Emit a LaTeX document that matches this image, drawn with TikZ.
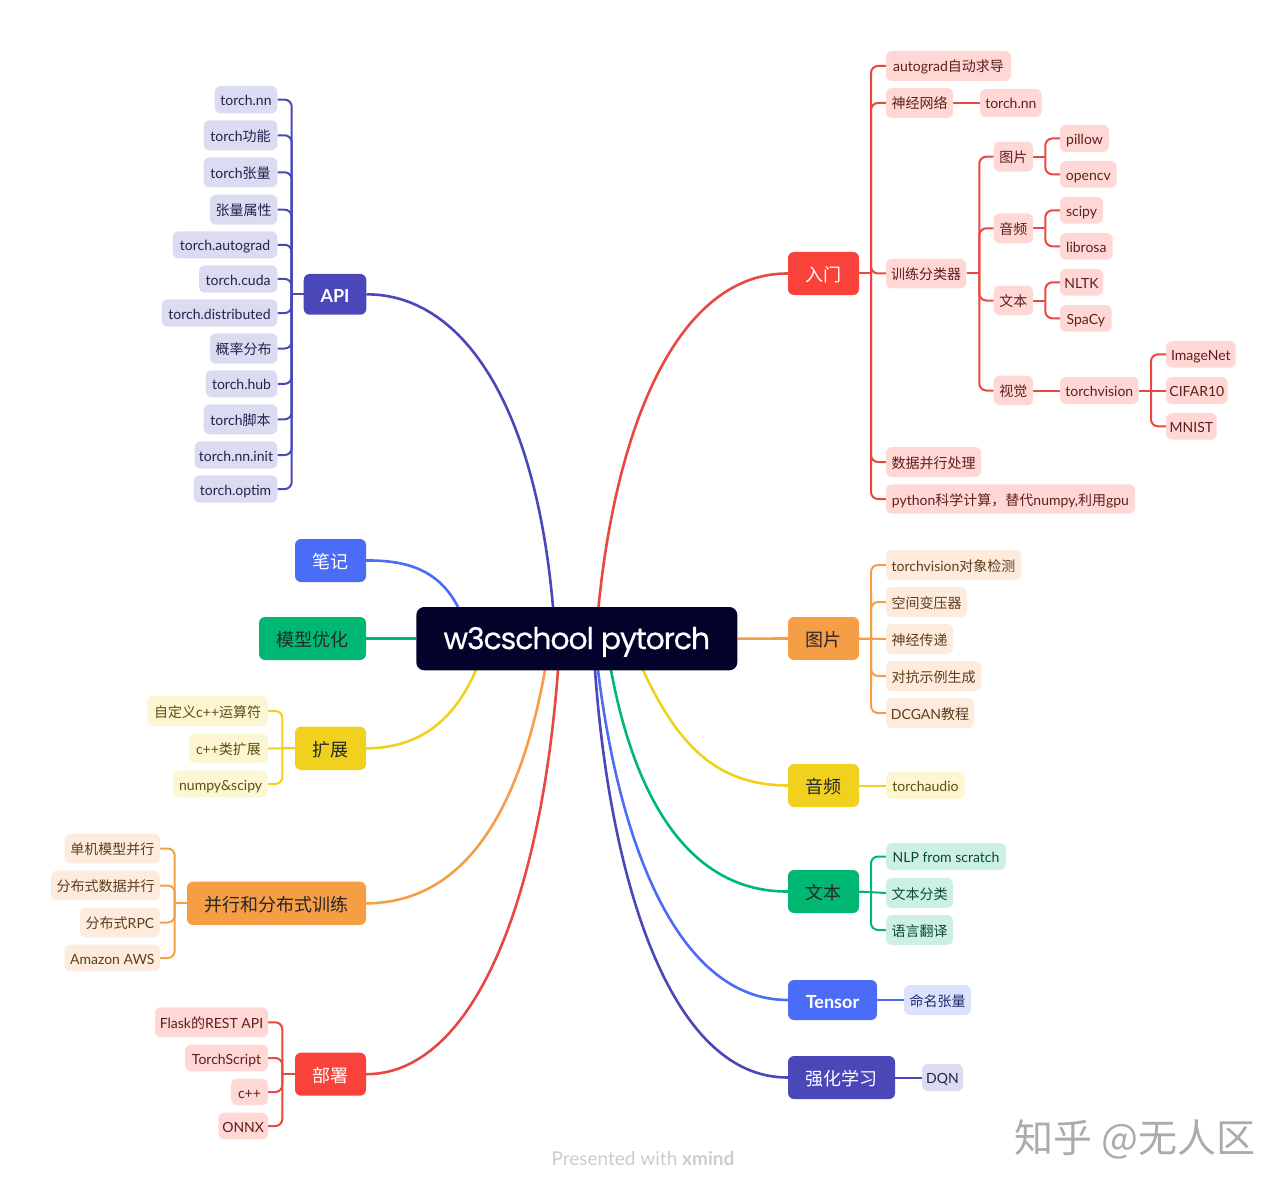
\documentclass[tikz,border=0pt]{standalone}
\usepackage{fontspec}
\setmainfont{Lato}
\newfontfamily\cjk{Noto Sans CJK SC}
\newfontfamily\popfont[FakeBold=0.4,LetterSpace=-3.7]{Poppins}
\newcommand\C[1]{{\cjk #1}}
\usetikzlibrary{backgrounds}
\definecolor{cred}{HTML}{F9423A}\definecolor{lred}{HTML}{E8483F}\definecolor{kred}{HTML}{FFD8D6}\definecolor{tred}{HTML}{5E1F1C}
\definecolor{cind}{HTML}{4A47B8}\definecolor{kind}{HTML}{DBDBF1}\definecolor{tind}{HTML}{24234F}
\definecolor{cblu}{HTML}{4A6CF7}\definecolor{kblu}{HTML}{DBE2FD}\definecolor{tblu}{HTML}{1E2C66}
\definecolor{cgrn}{HTML}{00B871}\definecolor{kgrn}{HTML}{CCF1E3}\definecolor{tgrn}{HTML}{0B4A32}
\definecolor{cora}{HTML}{F59E46}\definecolor{kora}{HTML}{FDEBDD}\definecolor{tora}{HTML}{5E3E1C}
\definecolor{cyel}{HTML}{F0D21E}\definecolor{kyel}{HTML}{FCF6D2}\definecolor{tyel}{HTML}{5A5010}
\definecolor{croot}{HTML}{02022B}
\tikzset{
  box/.style={inner sep=0pt,rounded corners=6pt,align=center},
  kid/.style={box,text height=14pt,text depth=2pt,font=\fontsize{14}{16}\selectfont},
  redk/.style={kid,fill=kred,text=tred}, indk/.style={kid,fill=kind,text=tind},
  bluk/.style={kid,fill=kblu,text=tblu}, grnk/.style={kid,fill=kgrn,text=tgrn},
  orak/.style={kid,fill=kora,text=tora}, yelk/.style={kid,fill=kyel,text=tyel},
  topic/.style={box,text height=18pt,text depth=2pt,font=\fontsize{18}{22}\selectfont},
  lighttopic/.style={topic,text=white}, darktopic/.style={topic,text=black!85},
  rootbox/.style={box,rounded corners=8pt,fill=croot,text=white,text height=25pt,text depth=4pt,font=\popfont\fontsize{30}{34}\selectfont},
  mainline/.style={line width=2.6pt},
  treeline/.style={line width=2pt,rounded corners=7pt},
  stubline/.style={line width=2pt},
}
\newcommand\N[7]{\node[#6,minimum width={(#3-#2)*1pt},minimum height={(#5-#4)*1pt}] (#1) at ({(#2+#3)/2},{(#4+#5)/2}) {#7};}
% tree links: a straight stub from the parent to the trunk, then a rounded branch to each child
\newcommand\Rk[4]{\draw[stubline,#1] (#2.east) -- (#3|-#2.east);\draw[treeline,#1] (#3|-#2.east) -- (#3|-#4.west) -- (#4.west);}
\newcommand\Lk[4]{\draw[stubline,#1] (#2.west) -- (#3|-#2.west);\draw[treeline,#1] (#3|-#2.west) -- (#3|-#4.east) -- (#4.east);}
\begin{document}
\begin{tikzpicture}[x=1pt,y=-1pt]
\useasboundingbox (0,0) rectangle (1287,1190);
\N{root}{416.3}{737.3}{607}{670.3}{rootbox}{w3cschool pytorch}
% topics
\N{rumen}{788}{859}{252}{295}{lighttopic,fill=cred}{\C{入门}}
\N{api}{303.7}{366.3}{274}{314.7}{lighttopic,fill=cind}{\textbf{API}}
\N{biji}{295}{366}{539}{582}{lighttopic,fill=cblu}{\C{笔记}}
\N{moxing}{259}{366}{617}{660}{darktopic,fill=cgrn}{\C{模型优化}}
\N{kuozhan}{295}{366}{726.7}{770}{darktopic,fill=cyel}{\C{扩展}}
\N{bingxing}{187}{366}{881.7}{925}{darktopic,fill=cora}{\C{并行和分布式训练}}
\N{bushu}{295}{366}{1052.7}{1095.7}{lighttopic,fill=cred}{\C{部署}}
\N{tupian}{788}{859}{617}{660}{darktopic,fill=cora}{\C{图片}}
\N{yinpin}{788}{859}{764}{807}{darktopic,fill=cyel}{\C{音频}}
\N{wenben}{788}{859}{870}{913}{darktopic,fill=cgrn}{\C{文本}}
\N{tensor}{788}{877}{980}{1020}{lighttopic,fill=cblu}{\textbf{Tensor}}
\N{qianghua}{788}{895}{1056}{1099}{lighttopic,fill=cind}{\C{强化学习}}
% intro kids
\N{r1}{886}{1011}{51}{81}{redk}{autograd\C{自动求导}}
\N{r2}{886}{953}{88}{118}{redk}{\C{神经网络}}
\N{r2a}{980}{1041.7}{89}{117}{redk}{torch.nn}
\N{r3}{886}{966.3}{258.7}{288.3}{redk}{\C{训练分类器}}
\N{r3a}{993.7}{1033}{141.7}{171.7}{redk}{\C{图片}}
\N{r3a1}{1060}{1109}{125}{152}{redk}{pillow}
\N{r3a2}{1060}{1116.7}{161}{187.7}{redk}{opencv}
\N{r3b}{993.7}{1033}{213.3}{243.3}{redk}{\C{音频}}
\N{r3b1}{1060}{1103}{197}{223.7}{redk}{scipy}
\N{r3b2}{1060}{1112.7}{233}{259.7}{redk}{librosa}
\N{r3c}{993.7}{1033}{285.7}{315.3}{redk}{\C{文本}}
\N{r3c1}{1060}{1103}{269}{295.7}{redk}{NLTK}
\N{r3c2}{1060}{1111.7}{305}{331.7}{redk}{SpaCy}
\N{r3d}{993.7}{1033}{375.7}{405.3}{redk}{\C{视觉}}
\N{r3d1}{1060}{1138.7}{377}{404}{redk}{torchvision}
\N{im}{1166}{1235.7}{341}{367.7}{redk}{ImageNet}
\N{ci}{1166}{1227.7}{377}{404}{redk}{CIFAR10}
\N{mn}{1166}{1216.7}{413}{439.7}{redk}{MNIST}
\N{r4}{886}{981}{447}{477}{redk}{\C{数据并行处理}}
\N{r5}{886}{1135}{484.3}{513.7}{redk}{python\C{科学计算，替代}numpy,\C{利用}gpu}
% api kids
\N{a1}{214.7}{277.3}{86}{113.3}{indk}{torch.nn}
\N{a2}{203.7}{277.3}{120.3}{150.3}{indk}{torch\C{功能}}
\N{a3}{203.7}{277.3}{157.3}{187.3}{indk}{torch\C{张量}}
\N{a4}{210}{277.3}{194.7}{224.7}{indk}{\C{张量属性}}
\N{a5}{172.7}{277.3}{231.3}{258.3}{indk}{torch.autograd}
\N{a6}{199}{277.3}{265.3}{292.7}{indk}{torch.cuda}
\N{a7}{161.7}{277.3}{299.3}{326.7}{indk}{torch.distributed}
\N{a8}{210}{277.3}{333.3}{363.7}{indk}{\C{概率分布}}
\N{a9}{205.7}{277.3}{370.3}{397.3}{indk}{torch.hub}
\N{a10}{203.7}{277.3}{404.3}{434.3}{indk}{torch\C{脚本}}
\N{a11}{194.7}{277.3}{441.3}{468.7}{indk}{torch.nn.init}
\N{a12}{193.7}{277.3}{475.3}{502.7}{indk}{torch.optim}
% extension kids
\N{k1}{147.3}{268}{696}{726}{yelk}{\C{自定义}c++\C{运算符}}
\N{k2}{189}{268}{733.7}{763.3}{yelk}{c++\C{类扩展}}
\N{k3}{173.3}{268}{770.7}{797.3}{yelk}{numpy\&scipy}
% parallel kids
\N{b1}{64.7}{160}{833.7}{863.3}{orak}{\C{单机模型并行}}
\N{b2}{51}{160}{870.7}{900.3}{orak}{\C{分布式数据并行}}
\N{b3}{80}{160}{907.7}{937.3}{orak}{\C{分布式}RPC}
\N{b4}{64.7}{160}{944.7}{971.3}{orak}{Amazon AWS}
% deploy kids
\N{d1}{155}{268}{1007.3}{1037.3}{redk}{Flask\C{的}REST API}
\N{d2}{185}{268}{1044.7}{1071.3}{redk}{TorchScript}
\N{d3}{231}{268}{1078.7}{1105.3}{redk}{c++}
\N{d4}{218.3}{268}{1112.7}{1139.3}{redk}{ONNX}
% image kids
\N{t1}{886}{1021}{550}{580}{orak}{torchvision\C{对象检测}}
\N{t2}{886}{967}{587}{617}{orak}{\C{空间变压器}}
\N{t3}{886}{953}{624}{654}{orak}{\C{神经传递}}
\N{t4}{886}{981}{661}{691}{orak}{\C{对抗示例生成}}
\N{t5}{886}{974}{698}{728}{orak}{DCGAN\C{教程}}
\N{y1}{886}{965}{772}{799}{yelk}{torchaudio}
\N{w1}{886}{1006}{843}{870}{grnk}{NLP from scratch}
\N{w2}{886}{953}{878}{908}{grnk}{\C{文本分类}}
\N{w3}{886}{953}{915}{945}{grnk}{\C{语言翻译}}
\N{n1}{904}{971}{985}{1015}{bluk}{\C{命名张量}}
\N{q1}{922}{963}{1064}{1091}{indk}{DQN}
% free text
\node[text=black!20,font=\fontsize{19}{22}\selectfont] (pres) at (643,1159) {Presented with \textbf{xmind}};
\node[text=black!33,font=\cjk\fontsize{39}{44}\selectfont] (mark) at (1135,1139) {知乎 @无人区};
% trunk positions
\coordinate (tR) at (871,0);\coordinate (tR2) at (979.3,0);\coordinate (tR3) at (1045.3,0);\coordinate (tR4) at (1151,0);
\coordinate (tA) at (291.7,0);\coordinate (tK) at (282.3,0);\coordinate (tB) at (174.7,0);
% exit points on the root
\coordinate (oApi) at (553,607);\coordinate (oRu) at (598.5,607);\coordinate (oBi) at (458,607);
\coordinate (oKu) at (476,670);\coordinate (oBx) at (545,670);\coordinate (oBu) at (558,670);
\coordinate (oYi) at (643,670);\coordinate (oWe) at (611,670);\coordinate (oTe) at (598,670);\coordinate (oQi) at (595,670);
\begin{pgfonlayer}{background}
\draw[mainline,cind] (oApi) .. controls (535,400) and (460,294) .. (api.east);
\draw[mainline,lred] (oRu) .. controls (617,420) and (680,273) .. (rumen.west);
\draw[mainline,cblu] (oBi) .. controls (440,572) and (410,560) .. (biji.east);
\draw[mainline,cgrn] (root.west|-moxing.east) -- (moxing.east);
\draw[mainline,cora] (root.east) -- (tupian.west);
\draw[mainline,cyel] (oKu) .. controls (450,730) and (410,748) .. (kuozhan.east);
\draw[mainline,cora] (oBx) .. controls (520,810) and (465,903) .. (bingxing.east);
\draw[mainline,lred] (oBu) .. controls (540,910) and (470,1074) .. (bushu.east);
\draw[mainline,cyel] (oYi) .. controls (680,750) and (720,785) .. (yinpin.west);
\draw[mainline,cgrn] (oWe) .. controls (635,800) and (690,892) .. (wenben.west);
\draw[mainline,cblu] (oTe) .. controls (620,850) and (680,1000) .. (tensor.west);
\draw[mainline,cind] (oQi) .. controls (610,880) and (670,1078) .. (qianghua.west);
\foreach \c in {r1,r2,r3,r4,r5}{\Rk{lred}{rumen}{tR}{\c}}
\draw[stubline,lred] (r2.east) -- (r2a.west);
\foreach \c in {r3a,r3b,r3c,r3d}{\Rk{lred}{r3}{tR2}{\c}}
\foreach \c in {r3a1,r3a2}{\Rk{lred}{r3a}{tR3}{\c}}
\foreach \c in {r3b1,r3b2}{\Rk{lred}{r3b}{tR3}{\c}}
\foreach \c in {r3c1,r3c2}{\Rk{lred}{r3c}{tR3}{\c}}
\draw[stubline,lred] (r3d.east) -- (r3d1.west);
\foreach \c in {im,mn}{\Rk{lred}{r3d1}{tR4}{\c}}
\draw[stubline,lred] (r3d1.east) -- (ci.west);
\foreach \c in {a1,a2,a3,a4,a5,a6,a7,a8,a9,a10,a11,a12}{\Lk{cind}{api}{tA}{\c}}
\foreach \c in {k1,k3}{\Lk{cyel}{kuozhan}{tK}{\c}}
\draw[stubline,cyel] (kuozhan.west) -- (k2.east);
\foreach \c in {b1,b2,b3,b4}{\Lk{cora}{bingxing}{tB}{\c}}
\foreach \c in {d1,d2,d3,d4}{\Lk{lred}{bushu}{tK}{\c}}
\foreach \c in {t1,t2,t4,t5}{\Rk{cora}{tupian}{tR}{\c}}
\draw[stubline,cora] (tupian.east) -- (t3.west);
\draw[stubline,cyel] (yinpin.east) -- (y1.west);
\foreach \c in {w1,w3}{\Rk{cgrn}{wenben}{tR}{\c}}
\draw[stubline,cgrn] (wenben.east) -- (w2.west);
\draw[stubline,cblu] (tensor.east) -- (n1.west);
\draw[stubline,cind] (qianghua.east) -- (q1.west);
\end{pgfonlayer}
\end{tikzpicture}
\end{document}
